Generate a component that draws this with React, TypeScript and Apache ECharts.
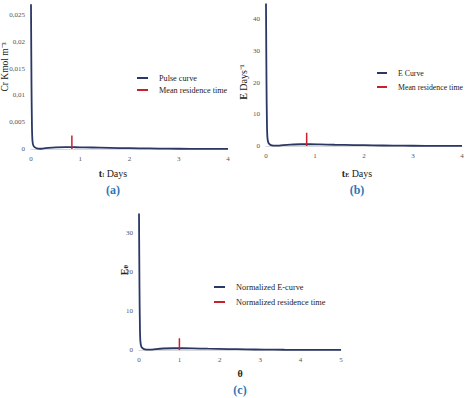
import React, { useEffect, useRef } from "react";
import * as echarts from "echarts";

// (a) pulse curve: time (days) vs concentration (kmol m^-3)
const tDays = [0, 0.01, 0.02, 0.03, 0.05, 0.08, 0.12, 0.18, 0.25, 0.35, 0.5, 0.7, 0.9, 1.1, 1.4, 1.8, 2.2, 2.6, 3.0, 3.5, 4.0];
const pulseC = [0.027, 0.012, 0.004, 0.0015, 0.0006, 0.0003, 0.0001, 0.00005, 0.0001, 0.0002, 0.0003, 0.00035, 0.00033, 0.0003, 0.00025, 0.00018, 0.00012, 0.00008, 0.00005, 0.00003, 0.00002];
// (b) E curve (days^-1)
const eCurve = [45, 20, 6.5, 2.5, 1.0, 0.5, 0.2, 0.1, 0.15, 0.3, 0.45, 0.55, 0.55, 0.5, 0.4, 0.3, 0.2, 0.13, 0.08, 0.05, 0.03];
// (c) normalized E curve
const theta = [0, 0.012, 0.024, 0.036, 0.06, 0.1, 0.15, 0.22, 0.3, 0.42, 0.6, 0.85, 1.1, 1.33, 1.7, 2.2, 2.65, 3.1, 3.6, 4.2, 5.0];
const eTheta = [35, 16, 5.2, 2, 0.8, 0.4, 0.15, 0.08, 0.12, 0.25, 0.38, 0.45, 0.45, 0.42, 0.33, 0.25, 0.17, 0.1, 0.06, 0.04, 0.02];
// mean residence time markers [x, height]
const meanA = [0.83, 0.0025];
const meanB = [0.83, 4.2];
const meanC = [1.0, 3.0];

const NAVY = "#2b3866";
const RED = "#c8202c";
const SERIF = "Liberation Serif";

export default function App() {
  const ref = useRef<HTMLDivElement>(null);
  useEffect(() => {
    const chart = echarts.init(ref.current!, null, { renderer: "svg" });
    const pair = (xs: number[], ys: number[]) => xs.map((x, i) => [x, ys[i]]);
    const axisLabel = { color: "#555", fontSize: 7, fontFamily: SERIF, margin: 6 };
    const xAxisBase = {
      type: "value" as const,
      min: 0,
      interval: 1,
      axisLine: { show: true, lineStyle: { color: "#d9d9d9" } },
      axisTick: { show: false },
      splitLine: { show: false },
      axisLabel,
    };
    const yAxisBase = {
      type: "value" as const,
      min: 0,
      axisLine: { show: false },
      axisTick: { show: false },
      splitLine: { show: false },
    };
    const legendText = (fs: number) => ({ fontFamily: SERIF, fontSize: fs, lineHeight: 10, color: "#222", padding: [0, 0, 0, 6] });
    const legendBase = {
      orient: "vertical" as const,
      icon: "rect",
      padding: 0,
      itemWidth: 11,
      itemHeight: 2,
    };
    chart.setOption({
      animation: false,
      textStyle: { fontFamily: SERIF },
      grid: [
        { left: 31, right: 246, top: 4.3, bottom: 249 },
        { left: 266, right: 12, top: 3.4, bottom: 252 },
        { left: 139, right: 133, top: 213.5, bottom: 48 },
      ],
      xAxis: [
        { ...xAxisBase, gridIndex: 0, max: 4 },
        { ...xAxisBase, gridIndex: 1, max: 4 },
        { ...xAxisBase, gridIndex: 2, max: 5 },
      ],
      yAxis: [
        {
          ...yAxisBase, gridIndex: 0, max: 0.027, interval: 0.005,
          axisLabel: { ...axisLabel, showMaxLabel: false, formatter: (v: number) => String(+v.toFixed(3)).replace(".", ",") },
        },
        { ...yAxisBase, gridIndex: 1, max: 45, interval: 10, axisLabel: { ...axisLabel, showMaxLabel: false } },
        { ...yAxisBase, gridIndex: 2, max: 35, interval: 10, axisLabel: { ...axisLabel, showMaxLabel: false } },
      ],
      legend: [
        { ...legendBase, left: 137, top: 73, itemGap: 2, textStyle: legendText(8.2), data: ["Pulse curve", "Mean residence time"] },
        { ...legendBase, left: 377, top: 68, itemGap: 4, itemWidth: 10, textStyle: legendText(7.8), data: ["E Curve", "Mean residence time "] },
        { ...legendBase, left: 214, top: 282, itemGap: 5, textStyle: legendText(8.3), data: ["Normalized E-curve", "Normalized residence time"] },
      ],
      series: [
        { name: "Pulse curve", type: "line", xAxisIndex: 0, yAxisIndex: 0, data: pair(tDays, pulseC), showSymbol: false, smooth: 0.3, lineStyle: { color: NAVY, width: 1.8 }, itemStyle: { color: NAVY } },
        { name: "Mean residence time", type: "line", xAxisIndex: 0, yAxisIndex: 0, data: [[meanA[0], 0], [meanA[0], meanA[1]]], showSymbol: false, lineStyle: { color: RED, width: 1.5 }, itemStyle: { color: RED } },
        { name: "E Curve", type: "line", xAxisIndex: 1, yAxisIndex: 1, data: pair(tDays, eCurve), showSymbol: false, smooth: 0.3, lineStyle: { color: NAVY, width: 1.8 }, itemStyle: { color: NAVY } },
        { name: "Mean residence time ", type: "line", xAxisIndex: 1, yAxisIndex: 1, data: [[meanB[0], 0], [meanB[0], meanB[1]]], showSymbol: false, lineStyle: { color: RED, width: 1.5 }, itemStyle: { color: RED } },
        { name: "Normalized E-curve", type: "line", xAxisIndex: 2, yAxisIndex: 2, data: pair(theta, eTheta), showSymbol: false, smooth: 0.3, lineStyle: { color: NAVY, width: 1.8 }, itemStyle: { color: NAVY } },
        { name: "Normalized residence time", type: "line", xAxisIndex: 2, yAxisIndex: 2, data: [[meanC[0], 0], [meanC[0], meanC[1]]], showSymbol: false, lineStyle: { color: RED, width: 1.5 }, itemStyle: { color: RED } },
      ],
      graphic: [
        // axis titles
        { type: "text", x: 5, y: 67, rotation: Math.PI / 2, style: { text: "Cr Kmol m⁻³", fontFamily: SERIF, fontSize: 9.5, fill: "#222", align: "center", verticalAlign: "middle" } },
        { type: "text", x: 113, y: 173, style: { text: "{b|t}{s|I} Days", fontFamily: SERIF, fontSize: 10, fill: "#222", align: "center", verticalAlign: "middle", rich: { b: { fontWeight: "bold", fontSize: 10, fontFamily: SERIF }, s: { fontSize: 6, fontFamily: SERIF, padding: [4, 0, 0, 0] } } } },
        { type: "text", x: 243, y: 82, rotation: Math.PI / 2, style: { text: "{b|E} Days⁻¹", fontFamily: SERIF, fontSize: 10, fill: "#222", align: "center", verticalAlign: "middle", rich: { b: { fontWeight: "bold", fontSize: 10, fontFamily: SERIF } } } },
        { type: "text", x: 357, y: 173, style: { text: "{b|t}{s|E} Days", fontFamily: SERIF, fontSize: 10, fill: "#222", align: "center", verticalAlign: "middle", rich: { b: { fontWeight: "bold", fontSize: 10, fontFamily: SERIF }, s: { fontSize: 6, fontFamily: SERIF, fontWeight: "bold", padding: [4, 0, 0, 0] } } } },
        { type: "text", x: 124, y: 270, rotation: Math.PI / 2, style: { text: "{b|E}{s|θ}", fontFamily: SERIF, fontSize: 10, fill: "#222", align: "center", verticalAlign: "middle", rich: { b: { fontWeight: "bold", fontSize: 10, fontFamily: SERIF }, s: { fontSize: 7, fontWeight: "bold", fontFamily: SERIF, padding: [4, 0, 0, 0] } } } },
        { type: "text", x: 240, y: 373, style: { text: "θ", fontFamily: SERIF, fontSize: 10, fontWeight: "bold", fill: "#222", align: "center", verticalAlign: "middle" } },
        // panel letters
        { type: "text", x: 113, y: 190, style: { text: "(a)", fontFamily: SERIF, fontSize: 12, fontWeight: "bold", fill: "#2e75b6", align: "center", verticalAlign: "middle" } },
        { type: "text", x: 357, y: 190, style: { text: "(b)", fontFamily: SERIF, fontSize: 12, fontWeight: "bold", fill: "#2e75b6", align: "center", verticalAlign: "middle" } },
        { type: "text", x: 240, y: 390, style: { text: "(c)", fontFamily: SERIF, fontSize: 12, fontWeight: "bold", fill: "#2e75b6", align: "center", verticalAlign: "middle" } },
      ],
    });
    return () => chart.dispose();
  }, []);
  return (
    <div ref={ref} style={{ width: 474, height: 398, position: "absolute", left: 0, top: 0, background: "#fff" }} />
  );
}
